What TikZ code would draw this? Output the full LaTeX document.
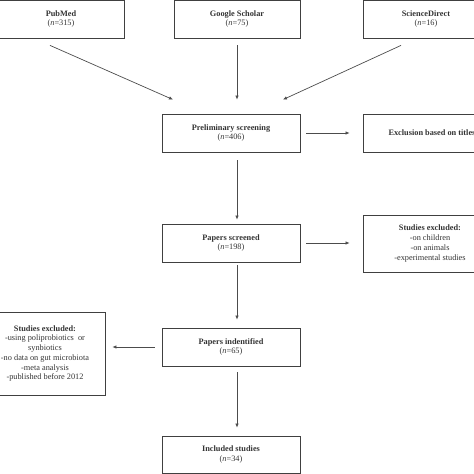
\documentclass[tikz,border=0pt]{standalone}
\usepackage{fontspec}
\setmainfont{Liberation Serif}
\usetikzlibrary{arrows.meta}

\begin{document}
\begin{tikzpicture}[x=1pt, y=-1pt,
    box/.style={draw=black!75, line width=0.8pt, align=center, inner sep=0pt,
        font=\fontsize{8.3}{9.7}\selectfont, text=black!80},
    flow/.style={draw=black!70, line width=0.7pt, -{Latex[length=4pt,width=3.5pt]}}]
            \useasboundingbox (0,0) rectangle (474,474);

            % Sources
            \node[box, minimum width=126pt, minimum height=38pt] (pubmed) at (61,19) {\textbf{PubMed}\\(\textit{n}=315)};
            \node[box, minimum width=126pt, minimum height=38pt] (scholar) at (237,19) {\textbf{Google Scholar}\\(\textit{n}=75)};
            \node[box, minimum width=126pt, minimum height=38pt] (sciencedirect) at (426,19) {\textbf{ScienceDirect}\\(\textit{n}=16)};

            % Main column
            \node[box, minimum width=138pt, minimum height=38pt] (prelim) at (231,133) {\textbf{Preliminary screening}\\(\textit{n}=406)};
            \node[box, minimum width=138pt, minimum height=38pt] (screened) at (231,243) {\textbf{Papers screened}\\(\textit{n}=198)};
            \node[box, minimum width=138pt, minimum height=38pt] (identified) at (231,347) {\textbf{Papers indentified}\\(\textit{n}=65)};
            \node[box, minimum width=138pt, minimum height=37pt] (included) at (231,454.5) {\textbf{Included studies}\\(\textit{n}=34)};

            % Exclusions
            \node[box, minimum width=138pt, minimum height=38pt] (titles) at (432,133) {\textbf{Exclusion based on titles}};
            \node[box, minimum width=134pt, minimum height=57pt] (excl-right) at (430,243.5) {\textbf{Studies excluded:}\\-on children\\-on animals\\-experimental studies};
            \node[box, minimum width=120pt, minimum height=83pt] (excl-left) at (45,353.5) {\textbf{Studies excluded:}\\-using poliprobiotics\ \ or\\synbiotics\\-no data on gut microbiota\\-meta analysis\\-published before 2012};

            % Arrow ends
            \coordinate (pubmed-out) at ([xshift=-11pt,yshift=-7pt]pubmed.south);
            \coordinate (sd-out) at ([xshift=-25pt,yshift=-7pt]sciencedirect.south);
            \coordinate (prelim-in-l) at ([xshift=-58pt,yshift=14pt]prelim.north);
            \coordinate (prelim-in-r) at ([xshift=52pt,yshift=14pt]prelim.north);

            \draw[flow] (pubmed-out) -- (prelim-in-l);
            \draw[flow, shorten <=7pt, shorten >=14pt] (scholar.south) -- (scholar.south |- prelim.north);
            \draw[flow] (sd-out) -- (prelim-in-r);
            \draw[flow, shorten <=6pt, shorten >=13pt] (prelim.east) -- (titles.west);
            \draw[flow, shorten <=8pt, shorten >=4pt] (scholar.south |- prelim.south) -- (scholar.south |- screened.north);
            \draw[flow, shorten <=6pt, shorten >=13pt] (screened.east) -- (screened.east -| excl-right.west);
            \draw[flow, shorten <=3pt, shorten >=8pt] (scholar.south |- screened.south) -- (scholar.south |- identified.north);
            \draw[flow, shorten <=7pt, shorten >=7pt] (identified.west) -- (identified.west -| excl-left.east);
            \draw[flow, shorten <=6pt, shorten >=8pt] (scholar.south |- identified.south) -- (scholar.south |- included.north);
        \end{tikzpicture}
\end{document}
